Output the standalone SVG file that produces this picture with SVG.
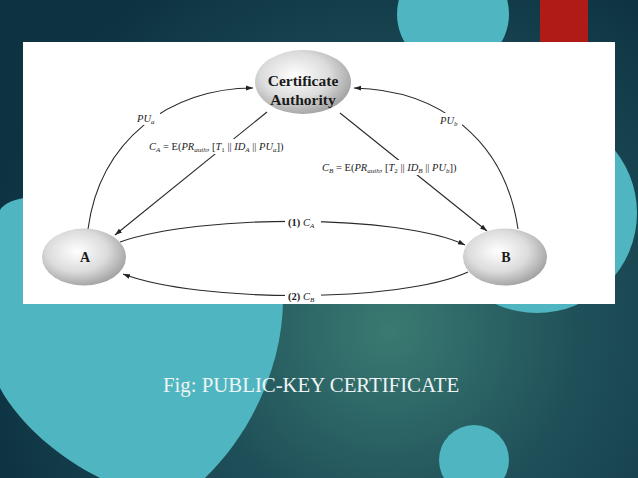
<svg xmlns="http://www.w3.org/2000/svg" width="638" height="478" viewBox="0 0 638 478">
  <defs>
    <radialGradient id="bg" cx="390" cy="330" r="420" gradientUnits="userSpaceOnUse">
      <stop offset="0" stop-color="#3a7a72"/>
      <stop offset="0.45" stop-color="#1f5059"/>
      <stop offset="1" stop-color="#0d3242"/>
    </radialGradient>
    <radialGradient id="node" cx="0.42" cy="0.4" r="0.65">
      <stop offset="0" stop-color="#ffffff"/>
      <stop offset="0.55" stop-color="#dcdcdc"/>
      <stop offset="1" stop-color="#9c9c9c"/>
    </radialGradient>
    <marker id="arr" viewBox="0 0 10 10" refX="10" refY="5" markerWidth="7" markerHeight="7" orient="auto" markerUnits="userSpaceOnUse">
      <path d="M0,1.5 L10,5 L0,8.5 Z" fill="#222"/>
    </marker>
    <style>
      .teal { fill: #4fb6c1; }
      .edge { fill: none; stroke: #2a2a2a; stroke-width: 1.1; marker-end: url(#arr); }
      .lbl { font-family: "Liberation Serif", "Times New Roman", serif; font-size: 10.5px; fill: #222; }
      .it { font-style: italic; }
      .sub { font-size: 7px; }
      .nodeText { font-family: "Liberation Serif", "Times New Roman", serif; font-weight: bold; fill: #1a1a1a; text-anchor: middle; }
      .gap { fill: #ffffff; }
    </style>
  </defs>

  <!-- background -->
  <rect x="0" y="0" width="638" height="478" fill="url(#bg)"/>
  <path class="teal" d="M0 210 Q6 200 30 197 L30 150 L283 150 L283 300 C283 360 255 430 205 478 L100 478 C60 458 20 425 0 388 Z"/>
  <circle class="teal" cx="537" cy="213" r="100"/>
  <circle class="teal" cx="453" cy="14" r="56"/>
  <circle class="teal" cx="474" cy="460" r="35"/>
  <rect x="540" y="0" width="48" height="44" fill="#b01a17"/>

  <!-- white panel -->
  <rect x="23" y="42" width="592" height="262" fill="#ffffff"/>

  <!-- connectors -->
  <g id="connectors">
    <path class="edge" d="M88 229 C100 140 170 88 253 88"/>
    <path class="edge" d="M518 229 C505 140 440 90 354 88"/>
    <path class="edge" d="M267 112 L115 235"/>
    <path class="edge" d="M340 113 L487 231"/>
    <path class="edge" d="M120 242 C200 214 400 214 465 245"/>
    <path class="edge" d="M468 272 C400 303 200 303 123 274"/>

    <!-- label backgrounds (gaps in lines) -->
    <rect class="gap" x="134" y="111" width="26" height="14"/>
    <rect class="gap" x="436" y="113" width="26" height="14"/>
    <rect class="gap" x="147" y="139" width="143" height="15"/>
    <rect class="gap" x="320" y="160" width="140" height="15"/>
    <rect class="gap" x="285" y="216" width="36" height="13"/>
    <rect class="gap" x="285" y="290" width="36" height="13"/>

    <text class="lbl it" x="137" y="122">PU<tspan class="sub" dy="2">a</tspan></text>
    <text class="lbl it" x="440" y="124">PU<tspan class="sub" dy="2">b</tspan></text>

    <text class="lbl" x="149" y="150"><tspan class="it">C</tspan><tspan class="sub it" dy="2">A</tspan><tspan dy="-2"> = E(</tspan><tspan class="it">PR</tspan><tspan class="sub it" dy="2">auth</tspan><tspan dy="-2">, [</tspan><tspan class="it">T</tspan><tspan class="sub" dy="2">1</tspan><tspan dy="-2"> || </tspan><tspan class="it">ID</tspan><tspan class="sub it" dy="2">A</tspan><tspan dy="-2"> || </tspan><tspan class="it">PU</tspan><tspan class="sub it" dy="2">a</tspan><tspan dy="-2">])</tspan></text>

    <text class="lbl" x="322" y="171"><tspan class="it">C</tspan><tspan class="sub it" dy="2">B</tspan><tspan dy="-2"> = E(</tspan><tspan class="it">PR</tspan><tspan class="sub it" dy="2">auth</tspan><tspan dy="-2">, [</tspan><tspan class="it">T</tspan><tspan class="sub" dy="2">2</tspan><tspan dy="-2"> || </tspan><tspan class="it">ID</tspan><tspan class="sub it" dy="2">B</tspan><tspan dy="-2"> || </tspan><tspan class="it">PU</tspan><tspan class="sub it" dy="2">b</tspan><tspan dy="-2">])</tspan></text>

    <text class="lbl" x="288" y="226"><tspan font-weight="bold">(1)</tspan> <tspan class="it">C</tspan><tspan class="sub it" dy="2">A</tspan></text>
    <text class="lbl" x="288" y="300"><tspan font-weight="bold">(2)</tspan> <tspan class="it">C</tspan><tspan class="sub it" dy="2">B</tspan></text>
  </g>

  <!-- nodes -->
  <g id="node-ca">
    <ellipse cx="303" cy="82" rx="48" ry="32" fill="url(#node)"/>
    <text class="nodeText" x="303" y="86" font-size="15.5">Certificate</text>
    <text class="nodeText" x="303" y="105" font-size="15.5">Authority</text>
  </g>
  <g id="node-a">
    <ellipse cx="84" cy="257" rx="42" ry="28.5" fill="url(#node)"/>
    <text class="nodeText" x="85" y="262" font-size="14">A</text>
  </g>
  <g id="node-b">
    <ellipse cx="505" cy="257" rx="42" ry="28.5" fill="url(#node)"/>
    <text class="nodeText" x="506" y="262" font-size="14">B</text>
  </g>

  <!-- caption -->
  <text x="163" y="392" font-family="Liberation Serif, 'Times New Roman', serif" font-size="20.8" fill="#eef4f4">Fig: PUBLIC-KEY CERTIFICATE</text>
</svg>
